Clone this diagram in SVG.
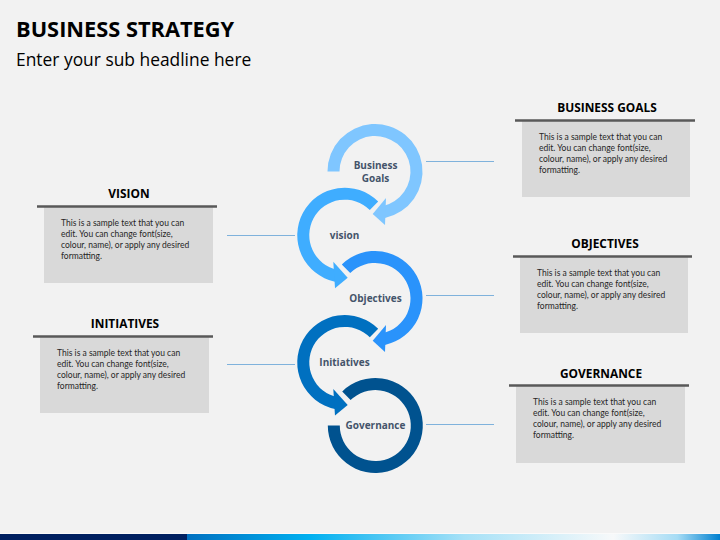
<svg xmlns="http://www.w3.org/2000/svg" width="720" height="540" viewBox="0 0 720 540">
<style>
text{font-family:"Open Sans","Noto Sans","Liberation Sans",sans-serif}
.h{font-size:11.9px;font-weight:700;fill:#000;text-anchor:middle}
.b{font-size:8.5px;fill:#262626;font-family:Lato,"Open Sans",sans-serif}
.l{font-size:10px;font-weight:700;fill:#44546a;text-anchor:middle}
.box{fill:#d9d9d9}
.rule{stroke:#595959;stroke-width:2.4;fill:none}
.c{stroke:#7fb2dc;stroke-width:1;fill:none}
</style>
<defs>
<linearGradient id="bar" x1="187" y1="0" x2="720" y2="0" gradientUnits="userSpaceOnUse">
<stop offset="0" stop-color="#0070c0"/>
<stop offset="0.23" stop-color="#00b0f0"/>
<stop offset="0.52" stop-color="#a6e1f7"/>
<stop offset="0.8" stop-color="#f7f9fa"/>
<stop offset="0.92" stop-color="#a6dcf5"/>
<stop offset="1" stop-color="#0080d0"/>
</linearGradient>
</defs>
<rect width="720" height="540" fill="#f2f2f2"/>
<rect y="533" width="720" height="1" fill="#fafafa"/>
<rect y="534" width="187" height="6" fill="#002060"/>
<rect x="187" y="534" width="533" height="6" fill="url(#bar)"/>
<text x="16" y="37" font-size="21.8" font-weight="700" fill="#000">BUSINESS STRATEGY</text>
<text x="16" y="66" font-size="17.4" fill="#000">Enter your sub headline here</text>
<g id="connectors">
<line class="c" x1="426" y1="161.5" x2="494" y2="161.5"/>
<line class="c" x1="227" y1="235.5" x2="295" y2="235.5"/>
<line class="c" x1="426" y1="295.5" x2="494" y2="295.5"/>
<line class="c" x1="227" y1="364.5" x2="295" y2="364.5"/>
<line class="c" x1="426" y1="424.5" x2="494" y2="424.5"/>
</g>
<g id="ring-business-goals" fill="#7fc6ff">
<path d="M327.5 171.5A47.5 47.5 0 1 1 385 217.94L382.5 206.2A35.5 35.5 0 1 0 339.5 171.5Z"/>
<polygon points="386,198 385,225 372.7,214"/>
<text class="l" x="375.5" y="168.5">Business</text>
<text class="l" x="375.5" y="181.7">Goals</text>
</g>
<g id="ring-vision" fill="#3fadff">
<path d="M378.2 201.5A47.5 47.5 0 1 0 334.9 281.7L337.4 269.9A35.5 35.5 0 1 1 369.8 210Z"/>
<polygon points="333.3,261.7 335,288.3 347.7,277.7"/>
<text class="l" x="344.5" y="239">vision</text>
</g>
<g id="ring-objectives" fill="#2a93fb">
<path d="M341.8 264.5A47.5 47.5 0 1 1 385 344.9L382.5 333.2A35.5 35.5 0 1 0 350.2 273.1Z"/>
<polygon points="386,325 385,352 372.7,340.7"/>
<text class="l" x="375.5" y="302.3">Objectives</text>
</g>
<g id="ring-initiatives" fill="#0070c0">
<path d="M378.2 328.8A47.5 47.5 0 1 0 334.9 409L337.4 397.2A35.5 35.5 0 1 1 369.8 337.3Z"/>
<polygon points="333.3,389 335,415.6 347.7,405"/>
<text class="l" x="344.5" y="366">Initiatives</text>
</g>
<g id="ring-governance" fill="#00528f">
<path d="M342.2 391.4A47.5 47.5 0 1 1 327.8 425.5L339.8 425.5A35.5 35.5 0 1 0 350.6 400.1Z"/>
<text class="l" x="375.5" y="429.3">Governance</text>
</g>
<g id="business-goals">
<rect class="box" x="522" y="120" width="168" height="77"/>
<line class="rule" x1="515" y1="120.5" x2="695" y2="120.5"/>
<text class="h" x="607" y="112">BUSINESS GOALS</text>
<text class="b" x="539" y="140">This is a sample text that you can</text>
<text class="b" x="539" y="151">edit. You can change font(size,</text>
<text class="b" x="539" y="162">colour, name), or apply any desired</text>
<text class="b" x="539" y="173">formatting.</text>
</g>
<g id="vision">
<rect class="box" x="44" y="206" width="169" height="77"/>
<line class="rule" x1="37" y1="206.5" x2="217" y2="206.5"/>
<text class="h" x="129" y="198">VISION</text>
<text class="b" x="61" y="226">This is a sample text that you can</text>
<text class="b" x="61" y="237">edit. You can change font(size,</text>
<text class="b" x="61" y="248">colour, name), or apply any desired</text>
<text class="b" x="61" y="259">formatting.</text>
</g>
<g id="objectives">
<rect class="box" x="520" y="256" width="168" height="77"/>
<line class="rule" x1="513" y1="256.5" x2="692" y2="256.5"/>
<text class="h" x="605" y="248">OBJECTIVES</text>
<text class="b" x="537" y="276">This is a sample text that you can</text>
<text class="b" x="537" y="287">edit. You can change font(size,</text>
<text class="b" x="537" y="298">colour, name), or apply any desired</text>
<text class="b" x="537" y="309">formatting.</text>
</g>
<g id="initiatives">
<rect class="box" x="40" y="336" width="169" height="77"/>
<line class="rule" x1="33" y1="336.5" x2="213" y2="336.5"/>
<text class="h" x="125" y="328">INITIATIVES</text>
<text class="b" x="57" y="356">This is a sample text that you can</text>
<text class="b" x="57" y="367">edit. You can change font(size,</text>
<text class="b" x="57" y="378">colour, name), or apply any desired</text>
<text class="b" x="57" y="389">formatting.</text>
</g>
<g id="governance">
<rect class="box" x="516" y="385" width="169" height="78"/>
<line class="rule" x1="509" y1="385.5" x2="689" y2="385.5"/>
<text class="h" x="601" y="378">GOVERNANCE</text>
<text class="b" x="533" y="405">This is a sample text that you can</text>
<text class="b" x="533" y="416">edit. You can change font(size,</text>
<text class="b" x="533" y="427">colour, name), or apply any desired</text>
<text class="b" x="533" y="438">formatting.</text>
</g>
</svg>
